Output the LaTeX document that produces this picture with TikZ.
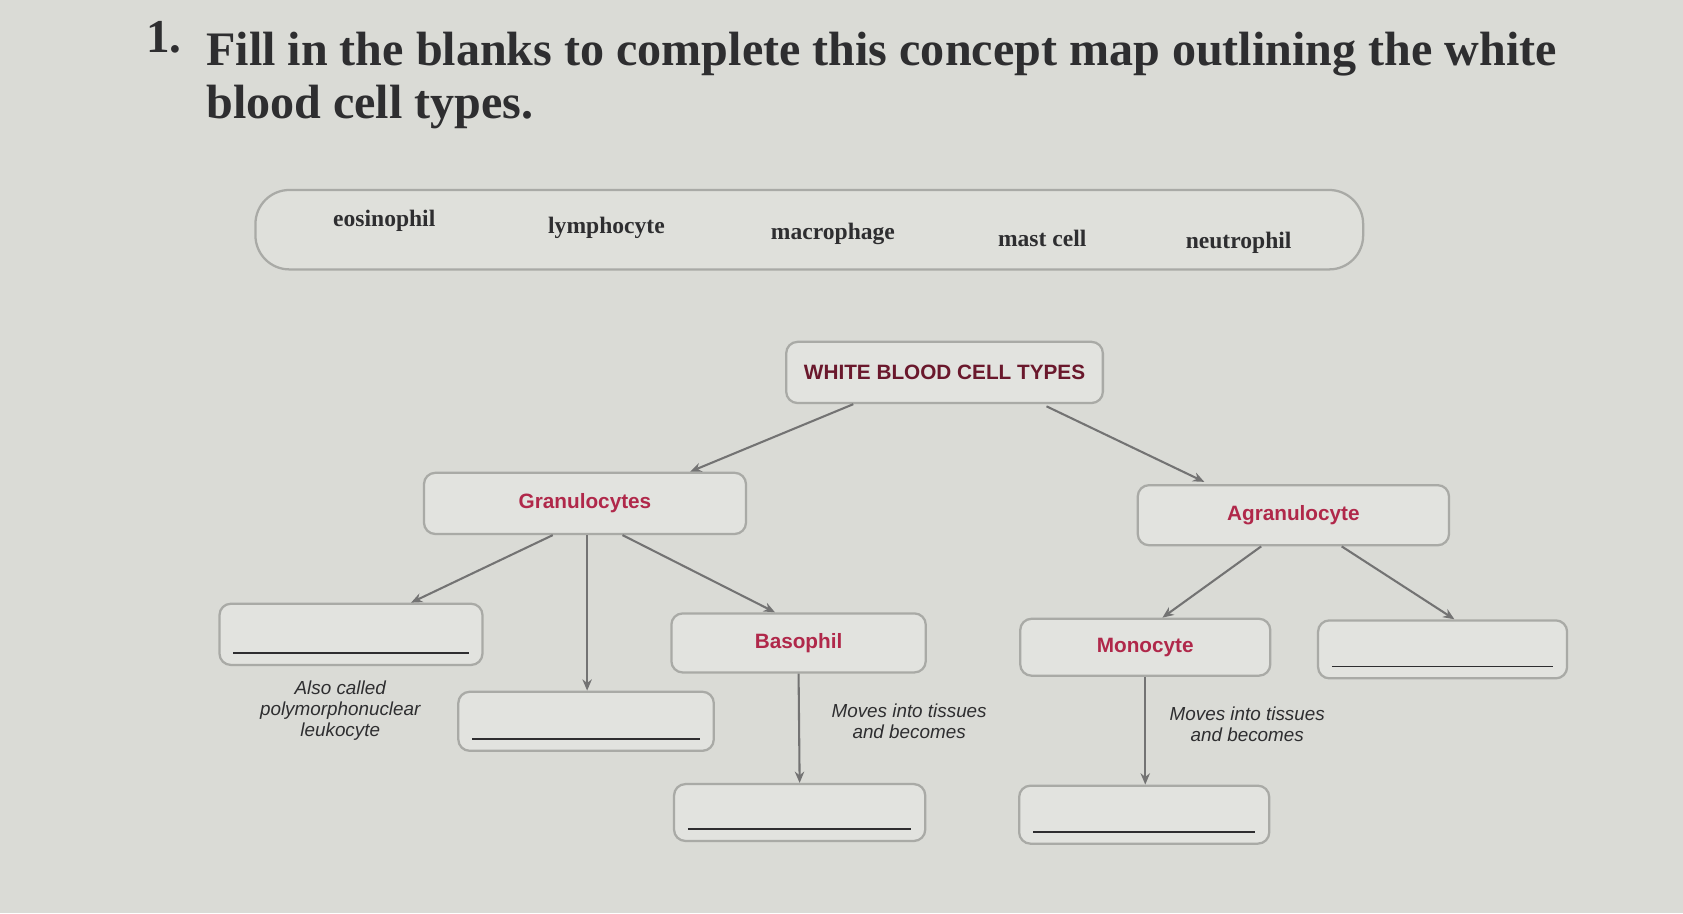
\documentclass[tikz,border=0pt]{standalone}
\usepackage{fontspec}
\setmainfont{Liberation Serif}
\setsansfont{Liberation Sans}
\usetikzlibrary{calc,arrows.meta}
\definecolor{bg}{HTML}{DADBD6}
\definecolor{boxf}{HTML}{E2E3DF}
\definecolor{boxd}{HTML}{A9AAA6}
\definecolor{lab}{HTML}{B0284A}
\definecolor{ink}{HTML}{2E2E30}
\begin{document}
\begin{tikzpicture}[x=0.02cm,y=-0.02cm,
  cbox/.style={draw=boxd,line width=1.2pt,fill=boxf,rounded corners=6pt,minimum width=#1*0.02cm,inner sep=0pt},
  cbox/.default=240,
  lbl/.style={font=\sffamily\fontsize{11}{12}\selectfont\bfseries,text=lab},
  note/.style={font=\sffamily\itshape\fontsize{10}{11}\selectfont,text=ink,align=center},
  arr/.style={draw=gray!90!black,line width=1.1pt,-{Stealth[length=6pt,width=5pt]}},
  word/.style={font=\bfseries\fontsize{12.5}{14}\selectfont,text=ink}]
\useasboundingbox[fill=bg] (0,0) rectangle (1568,851);
\node[anchor=west,font=\bfseries\fontsize{25}{29}\selectfont,text=ink] (num) at (130,35) {1.};
\node[anchor=west,font=\bfseries\fontsize{25.5}{29}\selectfont,text=ink] (q1) at (186,50) {Fill in the blanks to complete this concept map outlining the white};
\node[anchor=west,font=\bfseries\fontsize{25.5}{29}\selectfont,text=ink] (q2) at (186,100) {blood cell types.};
\node[draw=boxd,line width=1.2pt,fill=boxf!60!bg,rounded corners=18pt,minimum width=1032*0.02cm,minimum height=74*0.02cm] (bank) at (754,214) {};
\node[word] (w1) at (358,206) {eosinophil};
\node[word] (w2) at (565,212) {lymphocyte};
\node[word] (w3) at (776,218) {macrophage};
\node[word] (w4) at (971,222) {mast cell};
\node[word] (w5) at (1154,226) {neutrophil};
\node[cbox=295,minimum height=57*0.02cm,lbl,text=lab!60!black] (wbc) at (880,347) {WHITE BLOOD CELL TYPES};
\node[cbox=300,minimum height=57*0.02cm,lbl] (gran) at (545,469) {Granulocytes};
\node[cbox=290,minimum height=56*0.02cm,lbl] (agran) at (1205,480) {Agranulocyte};
\node[cbox=245,minimum height=57*0.02cm] (b1) at (327,591) {};
\node[cbox=237,minimum height=55*0.02cm,lbl] (baso) at (744,599) {Basophil};
\node[cbox=233,minimum height=53*0.02cm,lbl] (mono) at (1067,603) {Monocyte};
\node[cbox=232,minimum height=54*0.02cm] (b5) at (1344,605) {};
\node[cbox=238,minimum height=55*0.02cm] (b2) at (546,672) {};
\node[cbox=234,minimum height=53*0.02cm] (b3) at (745,757) {};
\node[cbox=233,minimum height=54*0.02cm] (b4) at (1066,759) {};
\foreach \b in {b1,b2,b3,b4,b5}{
  \draw[ink,line width=0.8pt] ($(\b.south west)+(14,-12)$) -- ($(\b.south east)+(-14,-12)$);}
\node[note] (n1) at (317,662) {Also called\\polymorphonuclear\\leukocyte};
\node[note] (n2) at (847,672) {Moves into tissues\\and becomes};
\node[note] (n3) at (1162,675) {Moves into tissues\\and becomes};
\draw[arr] ($(wbc.south)+(-85,0)$) -- ($(gran.north)+(98,0)$);
\draw[arr] ($(wbc.south)+(95,2)$) -- ($(agran.north)+(-83,-2)$);
\draw[arr] ($(gran.south)+(-30,0)$) -- ($(b1.north)+(56,0)$);
\draw[arr] ($(gran.south)+(2,0)$) -- ($(b2.north)+(1,0)$);
\draw[arr] ($(gran.south)+(35,0)$) -- ($(baso.north)+(-22,0)$);
\draw[arr] ($(agran.south)+(-30,0)$) -- ($(mono.north)+(16,0)$);
\draw[arr] ($(agran.south)+(45,0)$) -- ($(b5.north)+(11,0)$);
\draw[arr] (baso.south) -- (b3.north);
\draw[arr] (mono.south) -- ($(b4.north)+(1,0)$);
\end{tikzpicture}
\end{document}
